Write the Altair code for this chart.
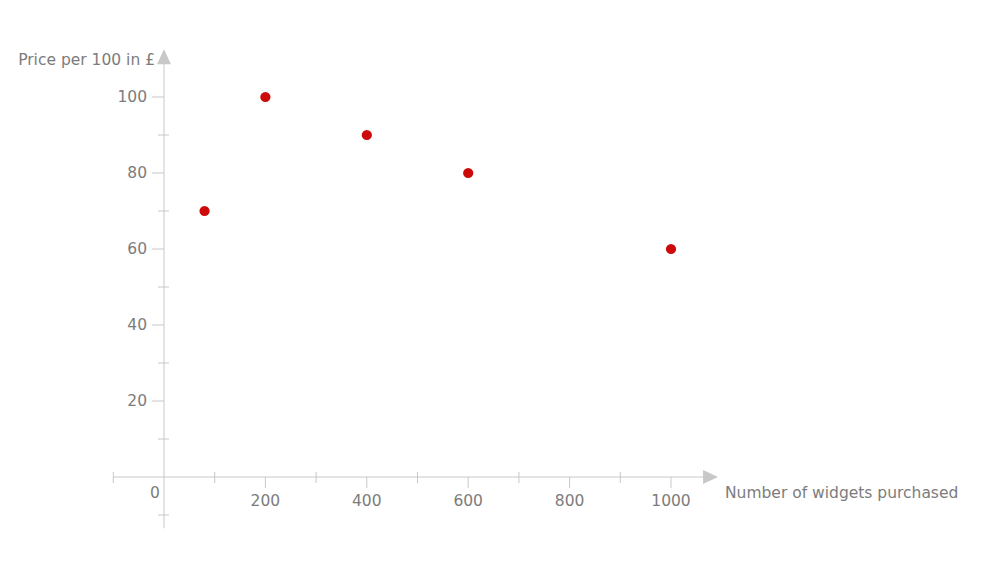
import altair as alt
import pandas as pd

# ---- data ----
widgets = [80, 200, 400, 600, 1000]
price = [70, 100, 90, 80, 60]

x_major = [200, 400, 600, 800, 1000]
x_major_labels = ["200", "400", "600", "800", "1000"]
x_minor = [-100, 100, 300, 500, 700, 900]
y_major = [20, 40, 60, 80, 100]
y_major_labels = ["20", "40", "60", "80", "100"]
y_minor = [-10, 10, 30, 50, 70, 90]
x_axis_span = [-100, 1078]
y_axis_span = [-13.5, 110.6]
x_title = "Number of widgets purchased"
y_title = "Price per 100 in £"
origin_label = "0"

AX = "#c8c8c8"
TX = "#7c7c7c"
FONT = "DejaVu Sans"
FS = 15.5

xs = alt.Scale(domain=[-307.69, 1641.03], nice=False, zero=False)
ys = alt.Scale(domain=[-21.842, 123.421], nice=False, zero=False)

# axis lines
xline = alt.Chart(pd.DataFrame({"x": [x_axis_span[0]], "x2": [x_axis_span[1]]})).mark_rule(
    color=AX, strokeWidth=1
).encode(
    x=alt.X("x:Q", scale=xs, axis=None), x2="x2:Q", y=alt.YDatum(0, scale=ys, axis=None)
)
yline = alt.Chart(pd.DataFrame({"y": [y_axis_span[0]], "y2": [y_axis_span[1]]})).mark_rule(
    color=AX, strokeWidth=1
).encode(
    y=alt.Y("y:Q", scale=ys, axis=None), y2="y2:Q", x=alt.XDatum(0, scale=xs, axis=None)
)

# arrows
xarrow = alt.Chart(pd.DataFrame({"x": [x_axis_span[1]]})).mark_point(
    shape="M -1 -0.93 L 1 0 L -1 0.93 Z", filled=True, size=225, color=AX, opacity=1, strokeWidth=0
).encode(x=alt.X("x:Q", scale=xs, axis=None), y=alt.YDatum(0, scale=ys, axis=None))
yarrow = alt.Chart(pd.DataFrame({"y": [y_axis_span[1]]})).mark_point(
    shape="M -0.93 1 L 0 -1 L 0.93 1 Z", filled=True, size=225, color=AX, opacity=1, strokeWidth=0
).encode(y=alt.Y("y:Q", scale=ys, axis=None), x=alt.XDatum(0, scale=xs, axis=None))

# ticks
xmaj = alt.Chart(pd.DataFrame({"v": x_major})).mark_rule(color=AX, y2Offset=11).encode(
    x=alt.X("v:Q", scale=xs, axis=None), y=alt.YDatum(0, scale=ys, axis=None), y2=alt.Y2Datum(0)
)
xmin = alt.Chart(pd.DataFrame({"v": x_minor})).mark_rule(color=AX, yOffset=-5, y2Offset=6).encode(
    x=alt.X("v:Q", scale=xs, axis=None), y=alt.YDatum(0, scale=ys, axis=None), y2=alt.Y2Datum(0)
)
ymaj = alt.Chart(pd.DataFrame({"v": y_major})).mark_rule(color=AX, xOffset=-12).encode(
    y=alt.Y("v:Q", scale=ys, axis=None), x=alt.XDatum(0, scale=xs, axis=None), x2=alt.X2Datum(0)
)
ymin = alt.Chart(pd.DataFrame({"v": y_minor})).mark_rule(color=AX, xOffset=-6, x2Offset=5).encode(
    y=alt.Y("v:Q", scale=ys, axis=None), x=alt.XDatum(0, scale=xs, axis=None), x2=alt.X2Datum(0)
)

# tick labels
xlab = alt.Chart(pd.DataFrame({"v": x_major, "t": x_major_labels})).mark_text(
    dy=24, align="center", baseline="middle", font=FONT, fontSize=FS, color=TX
).encode(x=alt.X("v:Q", scale=xs, axis=None), y=alt.YDatum(0, scale=ys, axis=None), text="t:N")
ylab = alt.Chart(pd.DataFrame({"v": y_major, "t": y_major_labels})).mark_text(
    dx=-17, align="right", baseline="middle", font=FONT, fontSize=FS, color=TX
).encode(y=alt.Y("v:Q", scale=ys, axis=None), x=alt.XDatum(0, scale=xs, axis=None), text="t:N")
olab = alt.Chart(pd.DataFrame({"t": [origin_label]})).mark_text(
    dx=-9, dy=16, align="center", baseline="middle", font=FONT, fontSize=FS, color=TX
).encode(x=alt.XDatum(0, scale=xs, axis=None), y=alt.YDatum(0, scale=ys, axis=None), text="t:N")

# titles
ytitle = alt.Chart(pd.DataFrame({"t": [y_title]})).mark_text(
    align="right", baseline="middle", font=FONT, fontSize=FS, color=TX
).encode(x=alt.value(147), y=alt.value(52), text="t:N")
xtitle = alt.Chart(pd.DataFrame({"t": [x_title]})).mark_text(
    align="left", baseline="middle", font=FONT, fontSize=FS, color=TX
).encode(x=alt.value(717), y=alt.value(485), text="t:N")

# points
pts = alt.Chart(pd.DataFrame({"x": widgets, "y": price})).mark_circle(
    size=105, color="#cc0a0a", opacity=1
).encode(x=alt.X("x:Q", scale=xs, axis=None), y=alt.Y("y:Q", scale=ys, axis=None))

chart = alt.layer(
    xline, yline, xmaj, xmin, ymaj, ymin, xarrow, yarrow, xlab, ylab, olab, ytitle, xtitle, pts
).properties(
    width=988, height=552, autosize=alt.AutoSizeParams(type="none"), padding=0
).configure_view(stroke=None)

chart.save("out.html", embed_options={"renderer": "svg", "actions": False})
